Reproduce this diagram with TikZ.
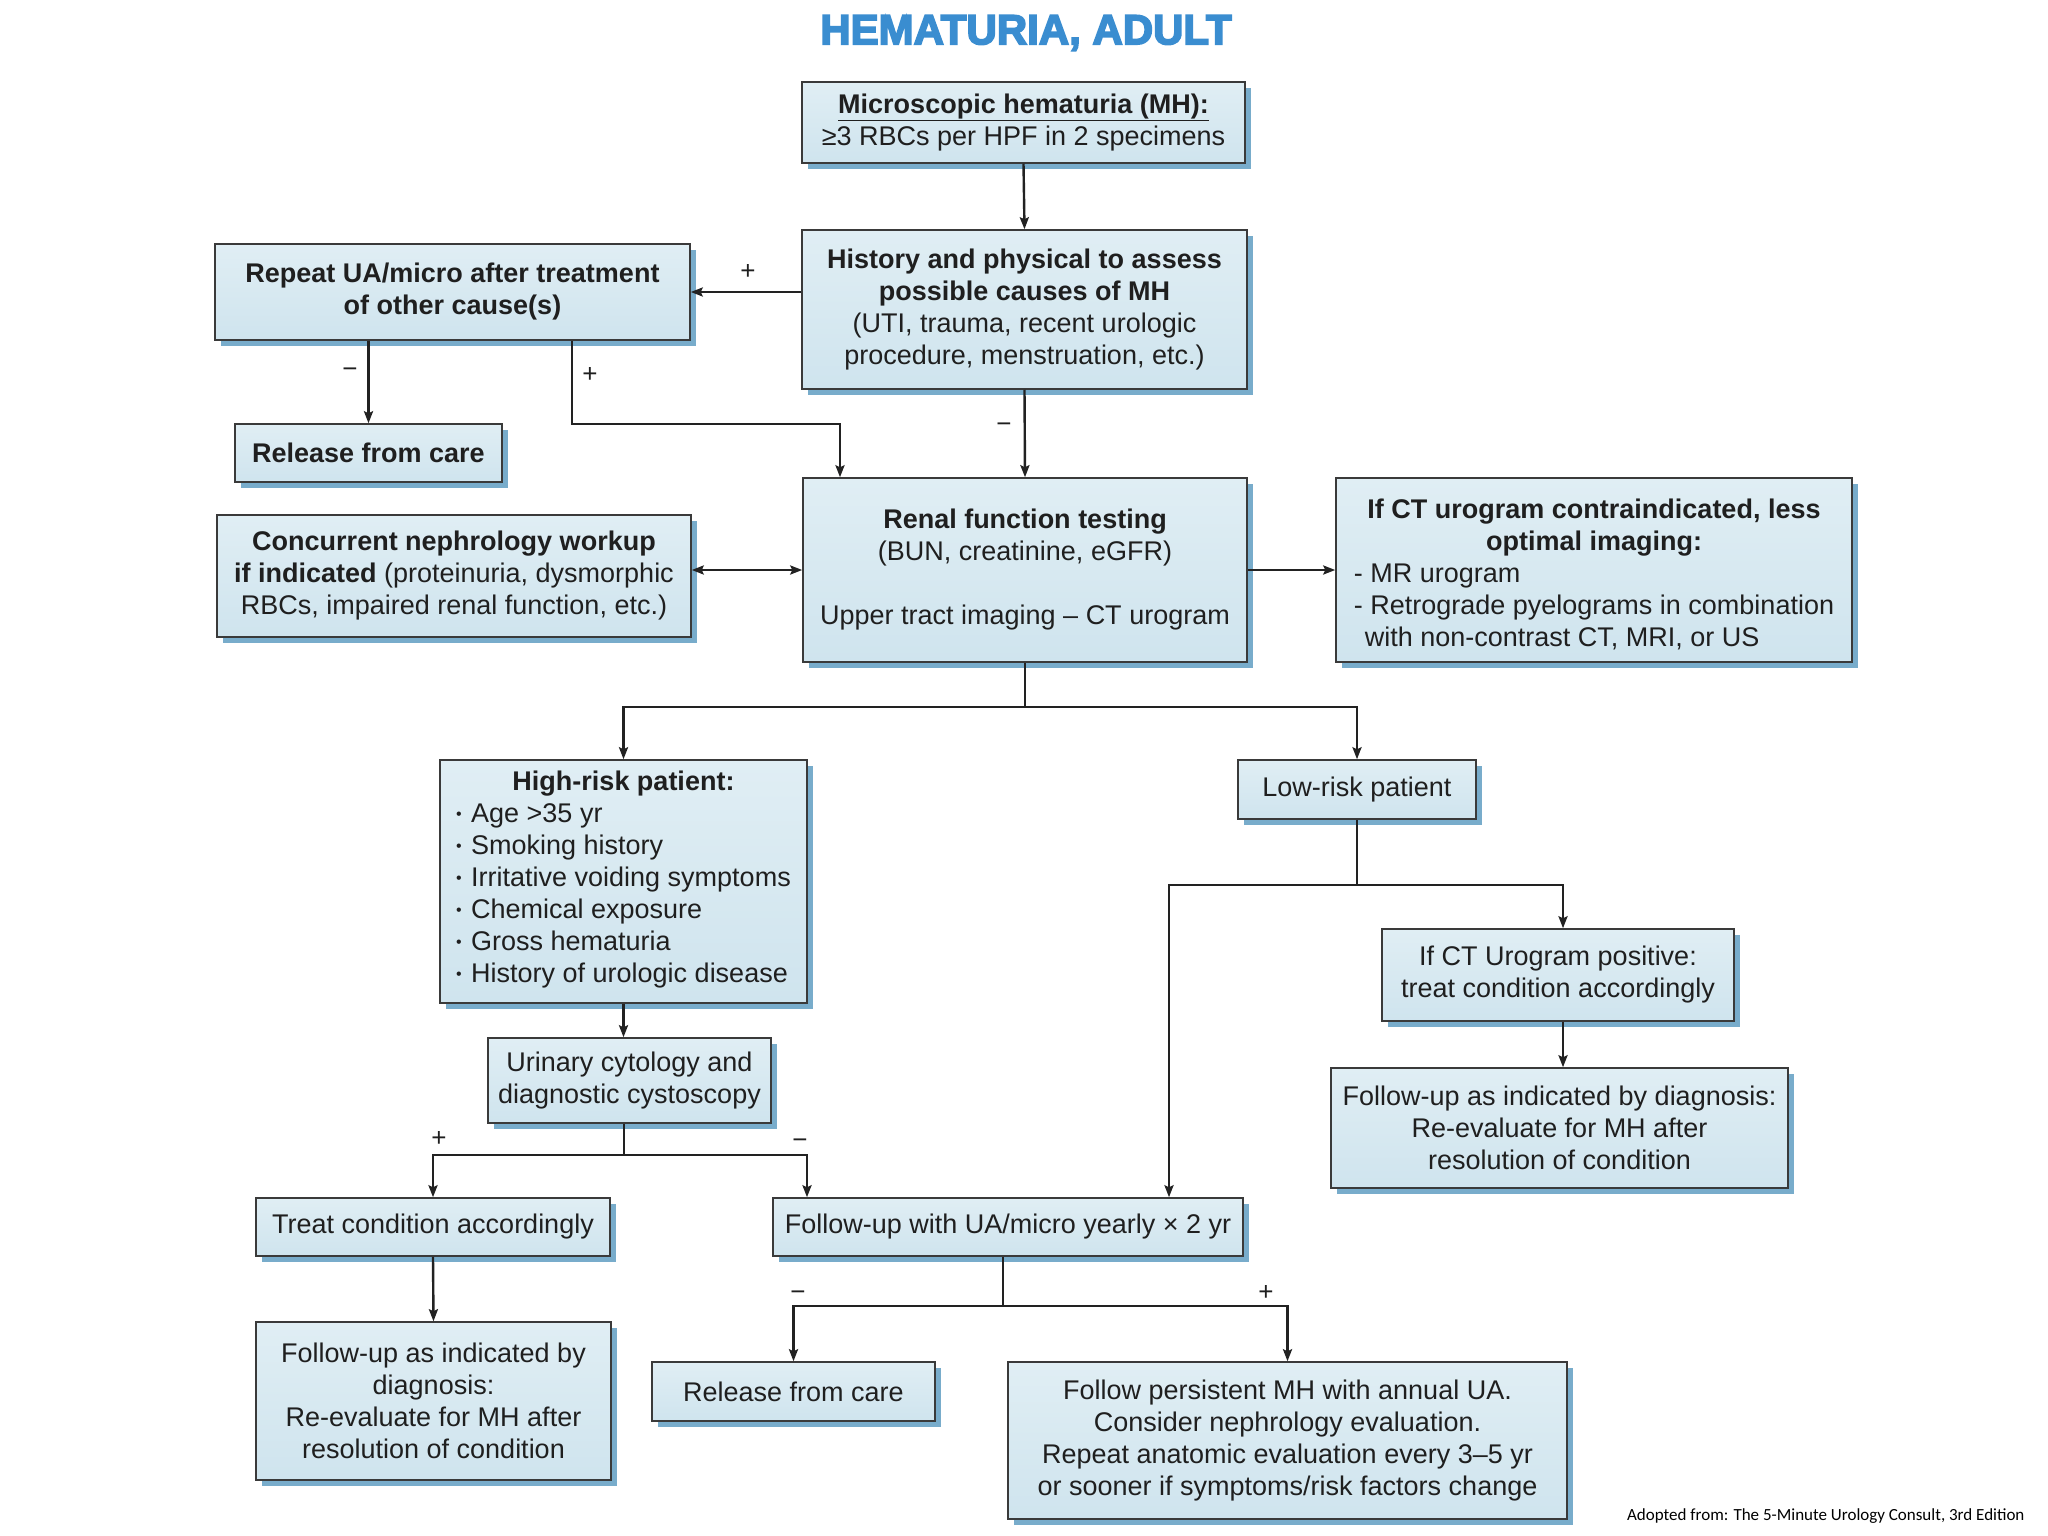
\documentclass[tikz,border=0pt]{standalone}
\usepackage{fontspec}
\setmainfont{Liberation Sans}
\newfontfamily\titlefont{Liberation Sans}[BoldFeatures={FakeBold=4}]
\newfontfamily\notefont{Carlito}
\usetikzlibrary{arrows.meta,shadows}
\definecolor{boxtop}{HTML}{E0EEF4}
\definecolor{boxbot}{HTML}{CFE4EE}
\definecolor{boxline}{HTML}{3A3A3A}
\definecolor{shadowblue}{HTML}{6AA4C6}
\definecolor{txt}{HTML}{1F1F1F}
\definecolor{lineclr}{HTML}{222222}
\definecolor{titleblue}{HTML}{3A8DD0}
\newcommand\bul{\makebox[15pt][l]{\raisebox{3pt}{\fontsize{16}{16}\selectfont •}}}
\begin{document}
\begin{tikzpicture}[x=1pt,y=-1pt,
  box/.style={draw=boxline, line width=1.5pt, top color=boxtop, bottom color=boxbot,
    drop shadow={shadow xshift=6pt, shadow yshift=-6pt, fill=shadowblue, opacity=0.9},
    inner sep=0pt, align=center, text=txt, font=\fontsize{27}{32}\selectfont},
  conn/.style={draw=lineclr, line width=2.4pt},
  arr/.style={conn, -{Stealth[length=12pt,width=9pt,inset=2pt]}},
  darr/.style={conn, {Stealth[length=12pt,width=9pt,inset=2pt]}-{Stealth[length=12pt,width=9pt,inset=2pt]}},
  sign/.style={font=\fontsize{26}{26}\selectfont, text=txt, inner sep=0pt}]
\fill[white] (0,0) rectangle (2048,1536);
\useasboundingbox (0,0) rectangle (2048,1536);

\node[font=\titlefont\bfseries\fontsize{42}{42}\selectfont, text=titleblue] (title) at (1026,33) {HEMATURIA, ADULT};

\node[box, minimum width=443pt, minimum height=81pt] (mh) at (1023.5,122.5)
  {\underline{\textbf{Microscopic hematuria (MH):}}\\≥3 RBCs per HPF in 2 specimens};
\node[box, minimum width=445pt, minimum height=159pt] (hist) at (1024.5,309.5)
  {\textbf{History and physical to assess}\\\textbf{possible causes of MH}\\(UTI, trauma, recent urologic\\procedure, menstruation, etc.)};
\node[box, minimum width=475pt, minimum height=96pt] (rep) at (452.5,292)
  {\textbf{Repeat UA/micro after treatment}\\\textbf{of other cause(s)}};
\node[box, minimum width=267pt, minimum height=58pt] (rel1) at (368.5,453)
  {\textbf{Release from care}};
\node[box, minimum width=444pt, minimum height=184pt] (renal) at (1025,570)
  {\textbf{Renal function testing}\\(BUN, creatinine, eGFR)\\[32pt]Upper tract imaging -- CT urogram};
\node[box, minimum width=474pt, minimum height=122pt] (conc) at (454,576)
  {\textbf{Concurrent nephrology workup}\\\textbf{if indicated} (proteinuria, dysmorphic\\RBCs, impaired renal function, etc.)};
\node[box, minimum width=516pt, minimum height=184pt] (ctc) at (1594,570)
  {\rule{0pt}{34pt}\textbf{If CT urogram contraindicated, less}\\\textbf{optimal imaging:}\\
   \begin{tabular}[t]{@{}l@{}}- MR urogram\\- Retrograde pyelograms in combination\\\hspace*{11pt}with non-contrast CT, MRI, or US\end{tabular}};
\node[box, minimum width=367pt, minimum height=243pt] (high) at (623.5,881.5)
  {\textbf{High-risk patient:}\\
   \begin{tabular}[t]{@{}l@{}}\bul Age >35 yr\\\bul Smoking history\\\bul Irritative voiding symptoms\\\bul Chemical exposure\\\bul Gross hematuria\\\bul History of urologic disease\end{tabular}};
\node[box, minimum width=238pt, minimum height=59pt] (low) at (1357,789.5) {Low-risk patient};
\node[box, minimum width=352pt, minimum height=92pt] (ctpos) at (1558,975)
  {If CT Urogram positive:\\treat condition accordingly};
\node[box, minimum width=457pt, minimum height=120pt] (furight) at (1559.5,1128)
  {Follow-up as indicated by diagnosis:\\Re-evaluate for MH after\\resolution of condition};
\node[box, minimum width=283pt, minimum height=85pt] (uri) at (629.5,1080.5)
  {Urinary cytology and\\diagnostic cystoscopy};
\node[box, minimum width=354pt, minimum height=58pt] (treat) at (433,1227) {Treat condition accordingly};
\node[box, minimum width=470pt, minimum height=58pt] (fuua) at (1008,1227) {Follow-up with UA/micro yearly × 2 yr};
\node[box, minimum width=355pt, minimum height=158pt] (fuleft) at (433.5,1401)
  {Follow-up as indicated by\\diagnosis:\\Re-evaluate for MH after\\resolution of condition};
\node[box, minimum width=283pt, minimum height=59pt] (rel2) at (793.5,1391.5) {Release from care};
\node[box, minimum width=559pt, minimum height=157pt] (persist) at (1287.5,1440.5)
  {Follow persistent MH with annual UA.\\Consider nephrology evaluation.\\Repeat anatomic evaluation every 3--5 yr\\or sooner if symptoms/risk factors change};

\node[anchor=east, font=\notefont\fontsize{17}{17}\selectfont, text=black] (src) at (2028,1516)
  {Adopted from: The 5-Minute Urology Consult, 3rd Edition};

% connectors
\draw[arr] (mh.south) -- (hist.north);
\draw[arr] (hist.west |- rep.east) -- (rep.east);
\draw[arr] (rep.south -| rel1.north) -- (rel1.north);
\coordinate (k1) at (572,424);
\coordinate (k2) at (840,424);
\draw[arr] (rep.south -| k1) -- (k1) -- (k2) -- (renal.north -| k2);
\draw[arr] (hist.south) -- (renal.north);
\draw[darr] (renal.west) -- (conc.east |- renal.west);
\draw[arr] (renal.east) -- (ctc.west);
\coordinate (s1) at (1025,707);
\draw[conn] (renal.south) -- (s1);
\draw[arr] (s1) -| (high.north);
\draw[arr] (s1) -| (low.north);
\coordinate (s2) at (1357,885);
\coordinate (s2b) at (1169,885);
\coordinate (s2c) at (1563,885);
\draw[conn] (low.south) -- (s2);
\draw[arr] (s2) -- (s2c) -- (ctpos.north -| s2c);
\draw[arr] (s2) -- (s2b) -- (fuua.north -| s2b);
\draw[arr] (high.south) -- (uri.north -| high.south);
\coordinate (s3) at (624,1155);
\coordinate (s3b) at (807,1155);
\draw[conn] (uri.south -| s3) -- (s3);
\draw[arr] (s3) -| (treat.north);
\draw[arr] (s3) -- (s3b) -- (fuua.north -| s3b);
\draw[arr] (ctpos.south -| s2c) -- (furight.north -| s2c);
\draw[arr] (treat.south) -- (fuleft.north);
\coordinate (s4) at (1003,1306);
\draw[conn] (fuua.south -| s4) -- (s4);
\draw[arr] (s4) -| (rel2.north);
\draw[arr] (s4) -| (persist.north);

% signs
\node[sign] (p1) at (748,272) {+};
\node[sign] (m1) at (350,373) {−};
\node[sign] (p2) at (590,375) {+};
\node[sign] (m2) at (1004,428) {−};
\node[sign] (p3) at (439,1139) {+};
\node[sign] (m3) at (800,1144) {−};
\node[sign] (m4) at (798,1296) {−};
\node[sign] (p4) at (1266,1293) {+};
\end{tikzpicture}
\end{document}
